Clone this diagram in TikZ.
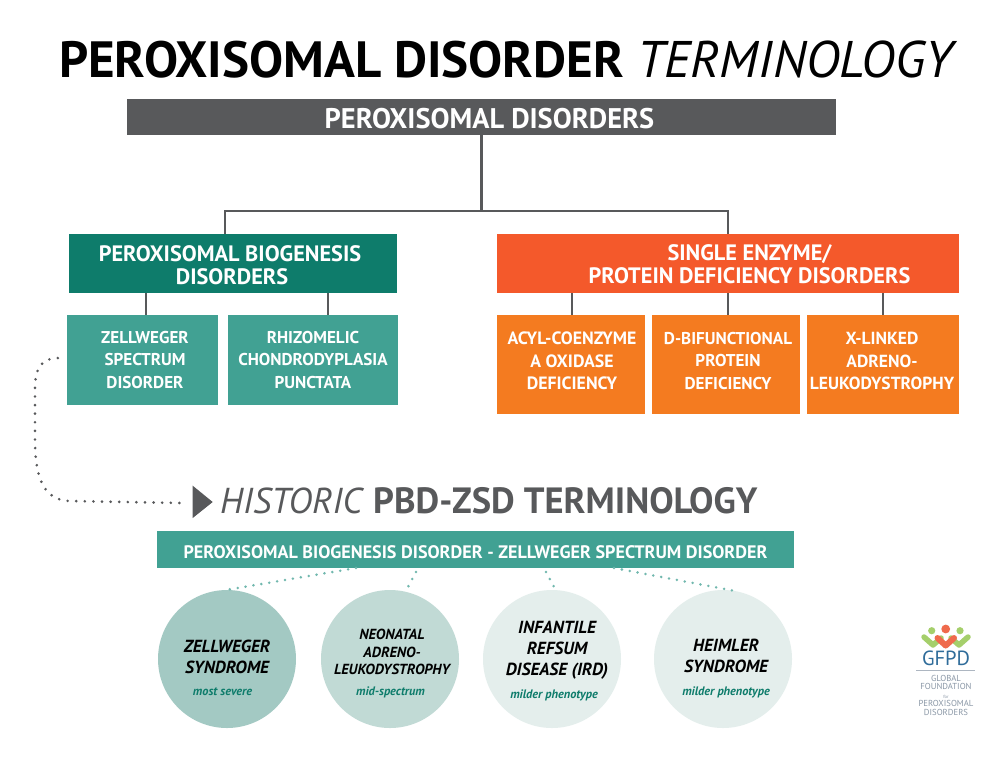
\documentclass[tikz,border=0pt]{standalone}
\usepackage{fontspec}
\setmainfont{PT Sans}
\usetikzlibrary{calc}
\definecolor{darkgrey}{HTML}{58595B}
\definecolor{tealdark}{HTML}{0E7C6B}
\definecolor{tealmid}{HTML}{41A193}
\definecolor{redorange}{HTML}{F4592B}
\definecolor{orangemid}{HTML}{F47B20}
\definecolor{circleone}{HTML}{A3C9C3}
\definecolor{circletwo}{HTML}{C1DAD5}
\definecolor{circlethree}{HTML}{E4EEEC}
\definecolor{logogreen}{HTML}{A5CF6B}
\definecolor{logored}{HTML}{EF6A4C}
\definecolor{logoblue}{HTML}{2F6C9A}
\definecolor{logogrey}{HTML}{8A97A6}
\tikzset{
  boxtext/.style={text=white,font=\fontsize{22.3}{22.5}\selectfont\bfseries,align=center,inner sep=0pt},
  smalltext/.style={text=white,font=\fontsize{17.1}{22.5}\selectfont\bfseries,align=center,inner sep=0pt},
  tree/.style={draw=darkgrey,line width=2.5pt},
  disease/.style={circle,minimum size=138pt,inner sep=0pt},
  diseasetext/.style={align=center,inner sep=0pt,font=\fontsize{17.5}{21}\selectfont\bfseries\itshape},
  phenotype/.style={text=tealdark,font=\fontsize{12.3}{14}\selectfont\bfseries\itshape,inner sep=0pt},
  tealdots/.style={draw=tealmid!75,line width=2.8pt,line cap=round,dash pattern=on 0pt off 8pt},
  greydots/.style={draw=darkgrey,line width=2.9pt,line cap=round,dash pattern=on 0pt off 8.6pt}
}
\begin{document}
\begin{tikzpicture}[x=1pt,y=-1pt]

            \useasboundingbox (0,0) rectangle (1000,761);
            \fill[white] (0,0) rectangle (1000,761);

            % title
            \node[anchor=base west,inner sep=0pt,font=\fontsize{51}{51}\selectfont\bfseries] (title) at (59,77) {PEROXISOMAL DISORDER};
            \node[anchor=base west,inner sep=0pt,font=\fontsize{51.5}{51.5}\selectfont\itshape] (titleb) at (637,77) {TERMINOLOGY};

            % tree
            \node[fill=darkgrey,minimum width=709pt,minimum height=36pt] (top) at (481.5,117) {};
            \node[inner sep=0pt,text=white,font=\fontsize{28.4}{30}\selectfont\bfseries] (toptext) at (489.5,118.5) {PEROXISOMAL DISORDERS};
            \node[fill=tealdark,minimum width=328pt,minimum height=59pt] (pbd) at (233,263.5) {};
            \node[boxtext] (pbdtext) at (230,265) {PEROXISOMAL BIOGENESIS\\\hspace*{4pt}DISORDERS};
            \node[fill=redorange,minimum width=462pt,minimum height=59pt] (enzyme) at (728,263.5) {};
            \node[boxtext] (enzymetext) at (749.5,264) {SINGLE ENZYME/\\PROTEIN DEFICIENCY DISORDERS};

            \node[fill=tealmid,minimum width=151pt,minimum height=90pt] (zsd) at (142.5,360) {};
            \node[smalltext] (zsdtext) at (145,360) {ZELLWEGER\\SPECTRUM\\DISORDER};
            \node[fill=tealmid,minimum width=170pt,minimum height=90pt,smalltext] (rcdp) at (313,360) {RHIZOMELIC\\CHONDRODYPLASIA\\PUNCTATA};
            \node[fill=orangemid,minimum width=148pt,minimum height=99pt] (acyl) at (571,364.5) {};
            \node[smalltext,font=\fontsize{17.8}{22.5}\selectfont\bfseries] (acyltext) at (572,361) {ACYL-COENZYME\\A OXIDASE\\DEFICIENCY};
            \node[fill=orangemid,minimum width=148pt,minimum height=99pt] (dbp) at (726,364.5) {};
            \node[smalltext] (dbptext) at (728,361) {D-BIFUNCTIONAL\\PROTEIN\\DEFICIENCY};
            \node[fill=orangemid,minimum width=152pt,minimum height=99pt] (xald) at (883,364.5) {};
            \node[smalltext,font=\fontsize{17.5}{22.5}\selectfont\bfseries] (xaldtext) at (882,361) {X-LINKED\\ADRENO-\\LEUKODYSTROPHY};

            \coordinate (split) at (481.5,211);
            \draw[tree] (top.south) -- (split);
            \draw[tree] ([xshift=-8pt]pbd.north) |- (split) -| (enzyme.north);
            \draw[tree] ([xshift=3.5pt]zsd.north) -- ([xshift=3.5pt]zsd.north |- pbd.south);
            \draw[tree] ([xshift=15pt]rcdp.north) -- ([xshift=15pt]rcdp.north |- pbd.south);
            \draw[tree] ([xshift=1pt]acyl.north) -- ([xshift=1pt]acyl.north |- enzyme.south);
            \draw[tree] ([xshift=2pt]dbp.north) -- ([xshift=2pt]dbp.north |- enzyme.south);
            \draw[tree] (xald.north) -- (xald.north |- enzyme.south);

            % historic heading
            \coordinate (arrowend) at (183,503);
            \fill[darkgrey] (192.7,485.7) -- (212.7,502) -- (192.7,518) -- cycle;
            \draw[greydots] ([xshift=-9pt,yshift=2pt]zsd.west) .. controls (42,358) and (35,368) .. (35,388) -- (35,440) .. controls (35,480) and (45,500) .. (69,501) -- (arrowend);
            \node[anchor=base west,inner sep=0pt,text=darkgrey,font=\fontsize{36}{36}\selectfont\itshape] (historic) at (220,513) {HISTORIC};
            \node[anchor=base west,inner sep=0pt,text=darkgrey,font=\fontsize{36.5}{36.5}\selectfont\bfseries] (historicb) at (373,513) {PBD-ZSD TERMINOLOGY};

            % spectrum
            \node[fill=tealmid,minimum width=637pt,minimum height=37pt,text=white,inner sep=0pt,text height=20pt,text depth=2.4pt,font=\fontsize{18.1}{20}\selectfont\bfseries] (banner) at (475.5,549.5) {PEROXISOMAL BIOGENESIS DISORDER - ZELLWEGER SPECTRUM DISORDER};

            \node[disease,fill=circleone] (zs) at (227,659) {};
            \node[disease,fill=circletwo] (nald) at (390,659) {};
            \node[disease,fill=circlethree] (ird) at (552,659) {};
            \node[disease,fill=circlethree] (hs) at (723,659) {};

            \node[diseasetext] (zstext) at (227,656.5) {ZELLWEGER\\SYNDROME};
            \node[diseasetext,font=\fontsize{14.6}{17.5}\selectfont\bfseries\itshape] (naldtext) at (392,652) {NEONATAL\\ADRENO-\\LEUKODYSTROPHY};
            \node[diseasetext] (irdtext) at (557,650.5) {INFANTILE\\REFSUM\\DISEASE (IRD)};
            \node[diseasetext] (hstext) at (726,656) {HEIMLER\\SYNDROME};

            \node[phenotype] (zsnote) at (222.5,692) {most severe};
            \node[phenotype] (naldnote) at (390.5,692.5) {mid-spectrum};
            \node[phenotype] (irdnote) at (554,695.5) {milder phenotype};
            \node[phenotype] (hsnote) at (726,692.5) {milder phenotype};

            \coordinate (banA) at (356,568);
            \coordinate (banB) at (416,572);
            \coordinate (banC) at (546,572);
            \coordinate (banD) at (614,568);
            \draw[tealdots] (banA) -- (zs.north);
            \draw[tealdots] (banB) -- (nald.77);
            \draw[tealdots] (banC) -- (ird.87);
            \draw[tealdots] (banD) -- (hs.76);

            % logo
            \fill[logogreen] (931.7,630.7) circle (3.6pt);
            \fill[logogreen] (960,630.7) circle (3.6pt);
            \fill[logored] (945.7,629) circle (4.4pt);
            \draw[logogreen,line width=5.5pt,line cap=round,line join=round] (924,637) -- (933,645) -- (941,638);
            \draw[logogreen,line width=5.5pt,line cap=round,line join=round] (951,638) -- (959,645) -- (968,637);
            \draw[logored,line width=6pt,line cap=round,line join=round] (937.5,638) -- (945.7,645.5) -- (954,638);
            \node[inner sep=0pt,text=logoblue,font=\fontsize{20.5}{20.5}\selectfont] (gfpd) at (946,658.7) {GFPD};
            \draw[logogrey!70,line width=0.8pt] (916,670.3) -- (975,670.3);
            \node[inner sep=0pt,align=center,text=logogrey,font=\fontsize{8.7}{8.5}\selectfont] (logotext) at (946,695) {GLOBAL\\FOUNDATION\\{\fontsize{4.5}{5}\selectfont for}\\PEROXISOMAL\\DISORDERS};

          \end{tikzpicture}
\end{document}
